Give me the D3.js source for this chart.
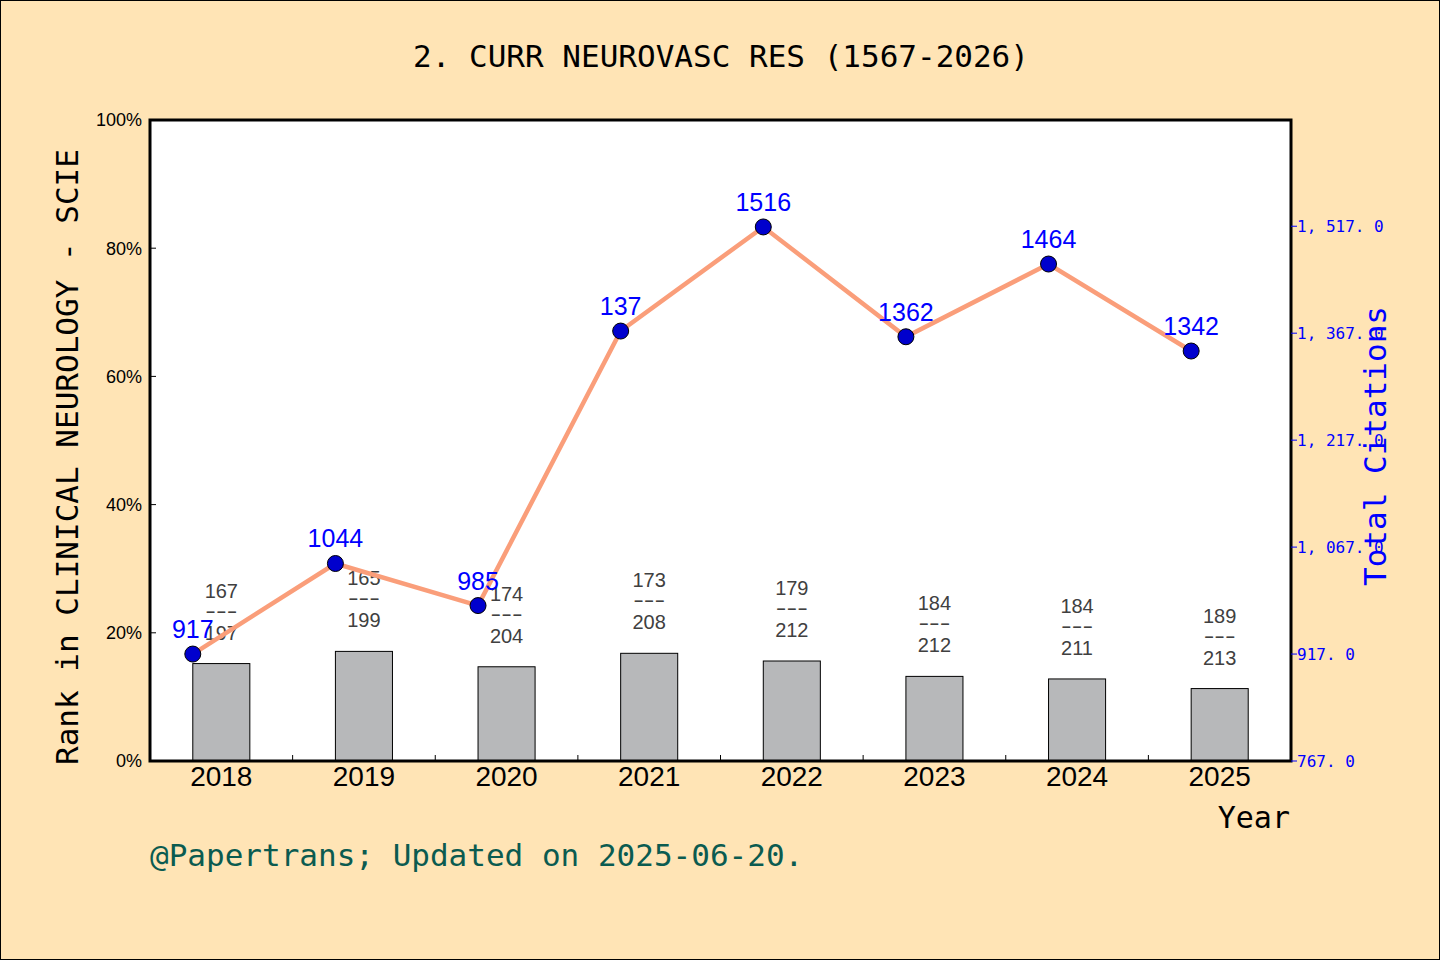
<!DOCTYPE html>
<html><head><meta charset="utf-8">
<script src="https://cdn.jsdelivr.net/npm/d3@7"></script>
<style>html,body{margin:0;padding:0;background:#ffe4b5;}svg{display:block;}</style>
</head><body>
<svg id="c" width="1440" height="960"></svg>
<script>
const years = ["2018","2019","2020","2021","2022","2023","2024","2025"];
const citations = [917, 1044, 985, 1370, 1516, 1362, 1464, 1342];
const citationLabels = ["917","1044","985","137","1516","1362","1464","1342"];
const ranks = [167, 165, 174, 173, 179, 184, 184, 189];
const totals = [197, 199, 204, 208, 212, 212, 211, 213];
const barPct = [15.2, 17.1, 14.7, 16.8, 15.6, 13.2, 12.8, 11.3];
const leftTicks = [0, 20, 40, 60, 80, 100];
const rightTicks = [767, 917, 1067, 1217, 1367, 1517];
const rightDomain = [767, 1666];

const svg = d3.select("#c");
const L = 150, R = 1291, T = 120, B = 761;
const mono = "'DejaVu Sans Mono', 'Liberation Mono', monospace";
const sans = "'Liberation Sans', Arial, sans-serif";

svg.append("rect").attr("x",0.5).attr("y",0.5).attr("width",1439).attr("height",959)
  .attr("fill","#ffe4b5").attr("stroke","#000").attr("stroke-width",1);

const x = d3.scaleBand().domain(years).range([L,R]).padding(0);
const bw = x.bandwidth();
const yL = d3.scaleLinear().domain([0,100]).range([B,T]);
const yR = d3.scaleLinear().domain(rightDomain).range([B,T]);

svg.append("rect").attr("x",L).attr("y",T).attr("width",R-L).attr("height",B-T).attr("fill","#fff");

// bars
svg.append("g").selectAll("rect").data(years).join("rect")
  .attr("x", d => x(d) + bw*0.3).attr("width", bw*0.4)
  .attr("y", (d,i) => yL(barPct[i])).attr("height", (d,i) => B - yL(barPct[i]))
  .attr("fill","#b7b8ba").attr("stroke","#000").attr("stroke-width",1);

// fraction labels
const fl = svg.append("g").attr("fill","#404040").attr("font-family",sans).attr("font-size",20).attr("text-anchor","middle");
years.forEach((d,i) => {
  const cx = x(d) + bw*0.5, top = yL(barPct[i]);
  fl.append("text").attr("x",cx).attr("y",top-66).text(ranks[i]);
  fl.append("text").attr("x",cx-16).attr("y",top-46).attr("text-anchor","start")
    .attr("textLength",32).attr("lengthAdjust","spacingAndGlyphs").text("---");
  fl.append("text").attr("x",cx).attr("y",top-24).text(totals[i]);
});

// line
const px = d => x(d) + bw*0.3;
svg.append("path").datum(years)
  .attr("d", d3.line().x(d => px(d)).y((d,i) => yR(citations[i])))
  .attr("fill","none").attr("stroke","#fa9e7a").attr("stroke-width",4.5);
svg.append("g").selectAll("circle").data(years).join("circle")
  .attr("cx", d => px(d)).attr("cy", (d,i) => yR(citations[i])).attr("r",8)
  .attr("fill","#0000cd").attr("stroke","#000").attr("stroke-width",1);
svg.append("g").attr("fill","#0000ff").attr("font-family",sans).attr("font-size",25).attr("text-anchor","middle")
  .selectAll("text").data(years).join("text")
  .attr("x", d => px(d)).attr("y", (d,i) => yR(citations[i]) - 16)
  .text((d,i) => citationLabels[i]);

// frame
svg.append("rect").attr("x",L).attr("y",T).attr("width",R-L).attr("height",B-T)
  .attr("fill","none").attr("stroke","#000").attr("stroke-width",3);

// left axis
const la = svg.append("g");
leftTicks.forEach(t => {
  la.append("line").attr("x1",L).attr("x2",L+6).attr("y1",yL(t)).attr("y2",yL(t)).attr("stroke","#000");
  la.append("text").attr("x",L-8).attr("y",yL(t)).attr("dy","0.35em").attr("text-anchor","end")
    .attr("font-family",sans).attr("font-size",18).attr("fill","#000").text(t + "%");
});

// bottom ticks at category boundaries
years.slice(1).forEach(d => {
  svg.append("line").attr("x1",x(d)).attr("x2",x(d)).attr("y1",B).attr("y2",B-6).attr("stroke","#000");
});
svg.append("g").attr("font-family",sans).attr("font-size",28).attr("text-anchor","middle").attr("fill","#000")
  .selectAll("text").data(years).join("text")
  .attr("x", d => x(d) + bw*0.5).attr("y", B+25).text(d => d);

// right axis
const fmt = d3.format(",.1f");
const ra = svg.append("g");
rightTicks.forEach(t => {
  ra.append("line").attr("x1",R).attr("x2",R+6).attr("y1",yR(t)).attr("y2",yR(t)).attr("stroke","#0000ff");
  ra.append("text").attr("x",R+6).attr("y",yR(t)).attr("dy","0.35em").attr("text-anchor","start")
    .attr("font-family",mono).attr("font-size",16).attr("fill","#0000ff")
    .text(fmt(t).replace(",", ", ").replace(".", ". "));
});

// titles
svg.append("text").attr("x",721).attr("y",67).attr("text-anchor","middle")
  .attr("font-family",mono).attr("font-size",31).attr("fill","#000")
  .text("2. CURR NEUROVASC RES (1567-2026)");
svg.append("text").attr("transform","translate(78,457) rotate(-90)").attr("text-anchor","middle")
  .attr("font-family",mono).attr("font-size",31).attr("fill","#000")
  .text("Rank in CLINICAL NEUROLOGY - SCIE");
svg.append("text").attr("transform","translate(1386,446) rotate(-90)").attr("text-anchor","middle")
  .attr("font-family",mono).attr("font-size",31).attr("fill","#0000ff")
  .text("Total Citations");
svg.append("text").attr("x",1290).attr("y",828).attr("text-anchor","end")
  .attr("font-family",mono).attr("font-size",30).attr("fill","#000").text("Year");
svg.append("text").attr("x",150).attr("y",866).attr("text-anchor","start")
  .attr("font-family",mono).attr("font-size",31).attr("fill","#0b5b50")
  .text("@Papertrans; Updated on 2025-06-20.");
</script>
</body></html>
